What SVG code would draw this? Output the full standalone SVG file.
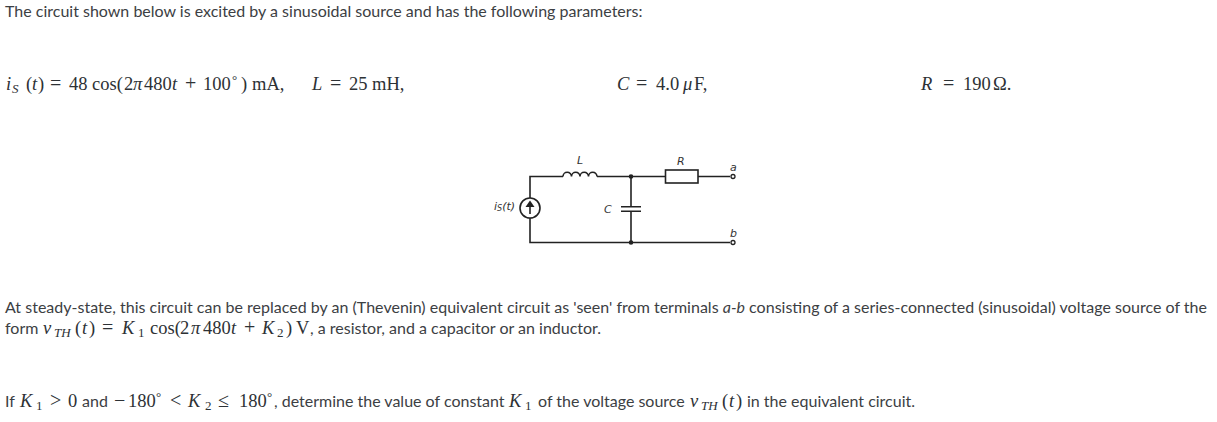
<svg xmlns="http://www.w3.org/2000/svg" width="1217" height="422" viewBox="0 0 1217 422">
<style>
.t{font-family:"Lato","Liberation Sans",sans-serif;font-size:16px;fill:#3c4043}
.m{font-family:"Liberation Serif","Times New Roman",serif;font-size:18.500px;fill:#2d3135}
.o{font-size:20px}
.i{font-style:italic}
.s{font-size:13px}
.w{fill:none;stroke:#222;stroke-width:1.6}
.d{fill:#222}
.l{font-family:"DejaVu Sans",sans-serif;font-style:italic;font-size:11px;fill:#333}
</style>
<rect width="1217" height="422" fill="#fff"/>
<g id="text">
<text class="t" x="5" y="17">The circuit shown below is excited by a sinusoidal source and has the following parameters:</text>
<text class="m" y="90"><tspan class="i" x="6">i</tspan><tspan class="i s" x="12" y="93">S</tspan><tspan x="26" y="90">(</tspan><tspan class="i" x="32">t</tspan><tspan x="38">)</tspan><tspan class="o" x="50">=</tspan><tspan x="69">48</tspan><tspan x="92">cos(</tspan><tspan x="124">2</tspan><tspan class="i" x="133">π</tspan><tspan x="144">480</tspan><tspan class="i" x="172">t</tspan><tspan class="o" x="185">+</tspan><tspan x="203">100</tspan><tspan x="232" y="84" class="s">°</tspan><tspan x="241" y="90">)</tspan><tspan x="252">mA,</tspan></text>
<text class="m" y="90"><tspan class="i" x="312">L</tspan><tspan class="o" x="330">=</tspan><tspan x="349">25</tspan><tspan x="372">mH,</tspan></text>
<text class="m" y="90"><tspan class="i" x="617">C</tspan><tspan class="o" x="636">=</tspan><tspan x="656">4.0</tspan><tspan class="i" x="683">μ</tspan><tspan x="694">F,</tspan></text>
<text class="m" y="90"><tspan class="i" x="921">R</tspan><tspan class="o" x="943">=</tspan><tspan x="963">190</tspan><tspan x="993">Ω.</tspan></text>
<text class="t" x="5" y="313" textLength="1202">At steady-state, this circuit can be replaced by an (Thevenin) equivalent circuit as 'seen' from terminals <tspan class="i">a-b</tspan> consisting of a series-connected (sinusoidal) voltage source of the</text>
<text class="t" x="5" y="334">form</text>
<text class="m" y="333.500"><tspan class="i" x="43">v</tspan><tspan class="i s" x="54" y="336.500">TH</tspan><tspan x="75" y="333.500">(</tspan><tspan class="i" x="82">t</tspan><tspan x="89">)</tspan><tspan class="o" x="102">=</tspan><tspan class="i" x="122">K</tspan><tspan class="s" x="138" y="336.500">1</tspan><tspan x="150" y="333.500">cos(</tspan><tspan x="180">2</tspan><tspan class="i" x="191">π</tspan><tspan x="203">480</tspan><tspan class="i" x="231">t</tspan><tspan class="o" x="244">+</tspan><tspan class="i" x="262">K</tspan><tspan class="s" x="277" y="336.500">2</tspan><tspan x="286" y="333.500">)</tspan><tspan x="296">V</tspan></text>
<text class="t" x="310" y="334">, a resistor, and a capacitor or an inductor.</text>
<text class="t" x="5" y="407">If</text>
<text class="m" y="407"><tspan class="i" x="20">K</tspan><tspan class="s" x="36" y="410">1</tspan><tspan class="o" x="50" y="407">&gt;</tspan><tspan x="68">0</tspan></text>
<text class="t" x="82" y="407">and</text>
<text class="m" y="407"><tspan class="o" x="114">−</tspan><tspan x="128">180</tspan><tspan class="s" x="156" y="401">°</tspan><tspan class="o" x="170" y="407">&lt;</tspan><tspan class="i" x="188">K</tspan><tspan class="s" x="205" y="410">2</tspan><tspan class="o" x="218" y="407">≤</tspan><tspan x="239">180</tspan><tspan class="s" x="267" y="401">°</tspan></text>
<text class="t" x="274" y="407">, determine the value of constant</text>
<text class="m" y="407"><tspan class="i" x="509">K</tspan><tspan class="s" x="525" y="410">1</tspan></text>
<text class="t" x="538" y="407">of the voltage source</text>
<text class="m" y="407"><tspan class="i" x="690">v</tspan><tspan class="i s" x="701" y="410">TH</tspan><tspan x="722" y="407">(</tspan><tspan class="i" x="729">t</tspan><tspan x="736">)</tspan></text>
<text class="t" x="747" y="407">in the equivalent circuit.</text>
</g>
<g id="connectors">
<path class="w" d="M530 198V176.500H563M597 176.500H665M698 176.500H730M530 218V242.500H730M631 176.500V206.500M631 211.500V242.500"/>
</g>
<g id="source">
<circle class="w" cx="530" cy="208" r="10"/>
<path class="w" d="M530 214V205"/>
<path class="d" d="M530 200.500L534.500 207H525.500Z"/>
<text class="l" x="494" y="210">i<tspan font-size="8" dy="1">S</tspan><tspan dy="-1">(t)</tspan></text>
</g>
<g id="inductor">
<path class="w" d="M563 176.500a4.250 4.250 0 0 1 8.500 0a4.250 4.250 0 0 1 8.500 0a4.250 4.250 0 0 1 8.500 0a4.250 4.250 0 0 1 8.500 0"/>
<text class="l" x="577" y="164">L</text>
</g>
<g id="capacitor">
<path class="w" d="M621 206.700H641M621 211.300H641"/>
<text class="l" x="604" y="212.500">C</text>
</g>
<g id="resistor">
<rect class="w" x="665.500" y="170" width="32.500" height="13" fill="#fff"/>
<text class="l" x="677" y="165">R</text>
</g>
<g id="junction-top"><circle class="d" cx="631" cy="176.500" r="2.300"/></g>
<g id="junction-bottom"><circle class="d" cx="631" cy="242.500" r="2.300"/></g>
<g id="terminal-a">
<circle cx="733" cy="176.500" r="2" fill="#fff" stroke="#222" stroke-width="1.300"/>
<text class="l" x="730" y="171">a</text>
</g>
<g id="terminal-b">
<circle cx="733" cy="242.500" r="2" fill="#fff" stroke="#222" stroke-width="1.300"/>
<text class="l" x="730" y="237">b</text>
</g>
</svg>
